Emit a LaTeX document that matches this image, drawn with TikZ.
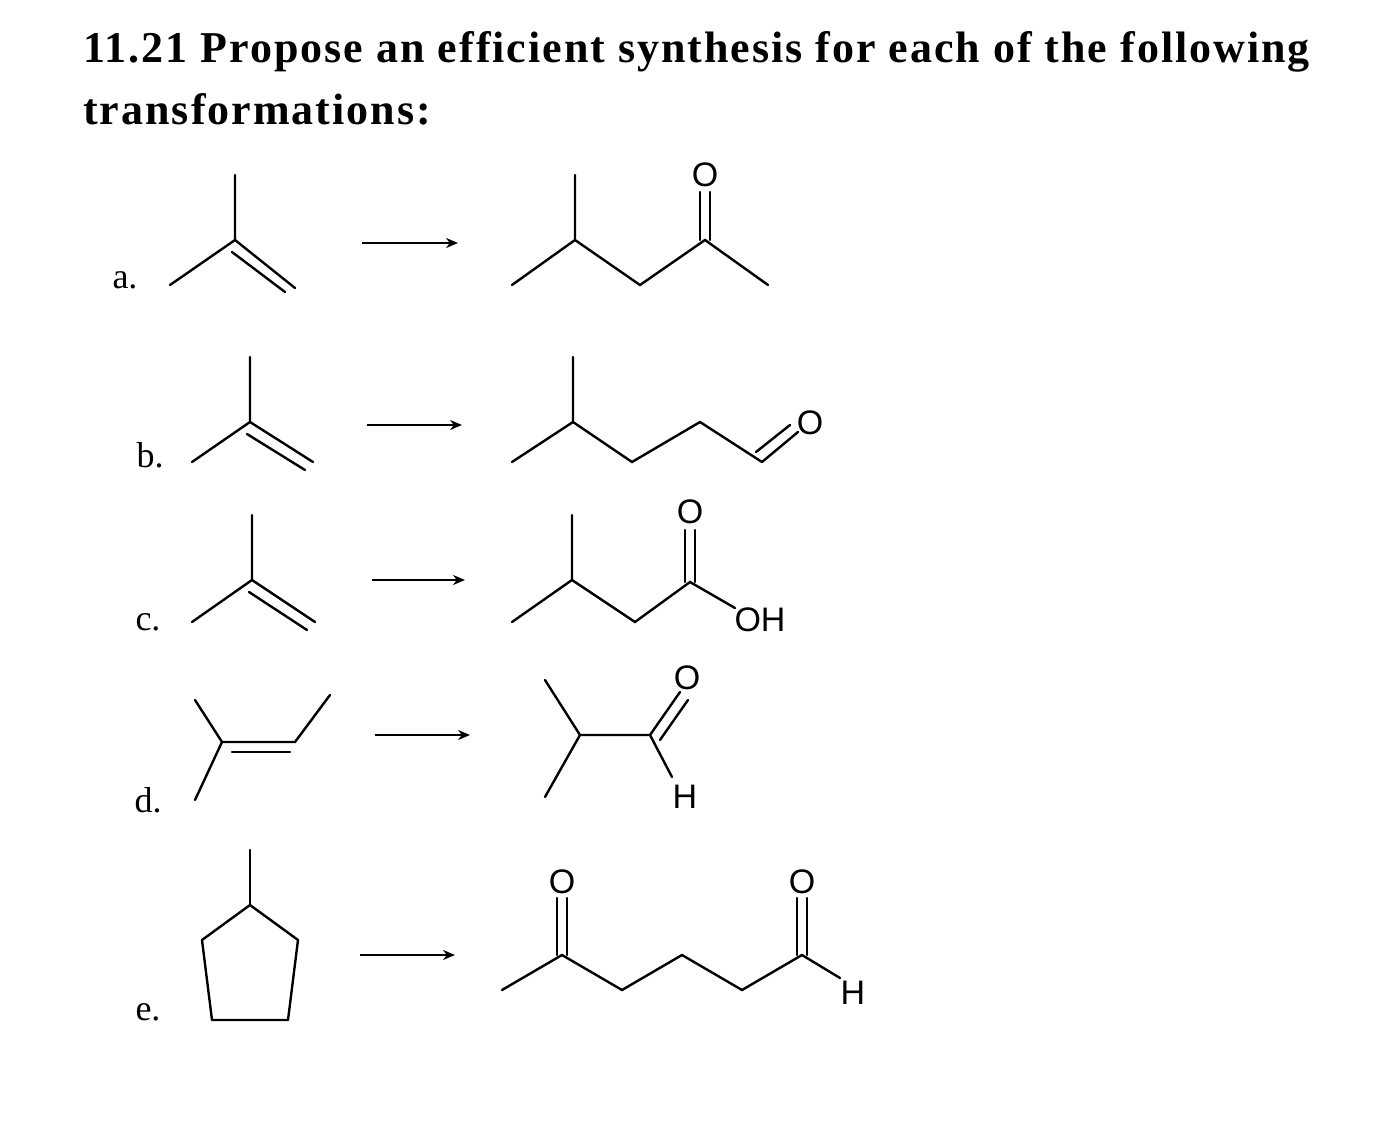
\documentclass[tikz,border=0pt]{standalone}
\usepackage{fontspec}
\setmainfont{Liberation Serif}
\newfontfamily\atomfont{Liberation Sans}
\newfontfamily\titlefont[LetterSpace=4.5]{Liberation Serif}
\usetikzlibrary{arrows.meta}
\begin{document}
\begin{tikzpicture}[x=0.5pt,y=-0.5pt,
  bond/.style={line width=1.2pt,line cap=round},
  rxn/.style={line width=1.1pt,-{Stealth[length=6pt,width=5pt]}},
  atom/.style={font=\atomfont\fontsize{17}{17}\selectfont,inner sep=0pt},
  lab/.style={font=\fontsize{18}{18}\selectfont,inner sep=0pt},
  title/.style={font=\titlefont\bfseries\fontsize{22}{26}\selectfont,anchor=base west,inner sep=0pt}]
\useasboundingbox (0,0) rectangle (1394,1124);
\node[title] (t1) at (83,62) {11.21 Propose an efficient synthesis for each of the following};
\node[title] (t2) at (83,124) {transformations:};
% a
\node[lab] (la) at (125,280) {a.};
\draw[bond] (235,175)--(235,240)--(170,285) (235,240)--(295,288);
\draw[bond] (232,252)--(285,292);
\draw[rxn] (362,243)--(458,243);
\draw[bond] (575,175)--(575,240)--(512,285) (575,240)--(640,285)--(705,240)--(768,285);
\draw[bond] (700,240)--(700,192) (710,240)--(710,192);
\node[atom] (oa) at (705,175) {O};
% b
\node[lab] (lb) at (150,455) {b.};
\draw[bond] (250,357)--(250,422)--(192,462) (250,422)--(313,462);
\draw[bond] (247,434)--(305,470);
\draw[rxn] (367,425)--(462,425);
\draw[bond] (573,357)--(573,422)--(512,462) (573,422)--(632,462)--(700,422)--(762,462);
\draw[bond] (762,462)--(798,432) (756,452)--(790,425);
\node[atom] (ob) at (810,423) {O};
% c
\node[lab] (lc) at (148,622) {c.};
\draw[bond] (252,515)--(252,580)--(192,622) (252,580)--(315,622);
\draw[bond] (249,592)--(307,630);
\draw[rxn] (372,580)--(465,580);
\draw[bond] (572,515)--(572,580)--(512,622) (572,580)--(635,622)--(690,582)--(735,608);
\draw[bond] (685,582)--(685,530) (695,582)--(695,530);
\node[atom] (oc) at (690,512) {O};
\node[atom] (ohc) at (760,620) {OH};
% d
\node[lab] (ld) at (148,800) {d.};
\draw[bond] (195,700)--(222,742)--(195,800) (222,742)--(295,742)--(330,695);
\draw[bond] (232,752)--(290,752);
\draw[rxn] (375,735)--(470,735);
\draw[bond] (545,680)--(580,735)--(545,797) (580,735)--(650,735)--(672,777);
\draw[bond] (650,735)--(680,692) (660,740)--(688,700);
\node[atom] (od) at (687,678) {O};
\node[atom] (hd) at (685,797) {H};
% e
\node[lab] (le) at (148,1012) {e.};
\draw[bond] (250,850)--(250,905);
\draw[bond,line join=round] (250,905)--(298,940)--(288,1020)--(212,1020)--(202,940)--cycle;
\draw[rxn] (360,955)--(455,955);
\draw[bond] (502,990)--(562,955)--(622,990)--(682,955)--(742,990)--(802,955)--(840,978);
\draw[bond] (557,955)--(557,898) (567,955)--(567,898);
\draw[bond] (797,955)--(797,898) (807,955)--(807,898);
\node[atom] (oe1) at (562,882) {O};
\node[atom] (oe2) at (802,882) {O};
\node[atom] (he) at (853,993) {H};
\end{tikzpicture}
\end{document}
